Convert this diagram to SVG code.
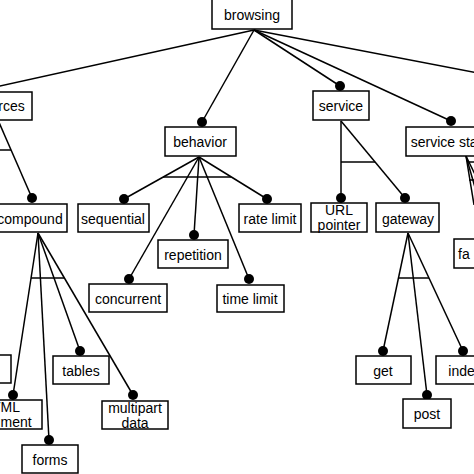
<svg xmlns="http://www.w3.org/2000/svg" width="474" height="474" viewBox="0 0 474 474">
<style>
.box{fill:#fff;stroke:#000;stroke-width:1.5}
.t{font-family:"Liberation Sans",Arial,sans-serif;font-size:14px;fill:#000;text-anchor:middle}
.c line{stroke:#000;stroke-width:1.5}
.c circle{fill:#000}
</style>
<rect width="474" height="474" fill="#fff"/>
<g class="c" id="connectors">
<line x1="254" y1="30" x2="-5" y2="87"/>
<line x1="254" y1="30" x2="202" y2="122"/>
<line x1="254" y1="30" x2="340" y2="86"/>
<line x1="254" y1="30" x2="451" y2="121"/>
<line x1="254" y1="30" x2="540" y2="85"/>
<circle cx="202" cy="122" r="5"/>
<circle cx="340" cy="86" r="5"/>
<circle cx="451" cy="121" r="5"/>
<line x1="-2" y1="120" x2="32" y2="198"/>
<line x1="-2" y1="120" x2="-20" y2="198"/>
<line x1="-10" y1="150" x2="11" y2="150"/>
<circle cx="32" cy="198" r="5"/>
<line x1="38" y1="233" x2="13" y2="395"/>
<line x1="38" y1="233" x2="49" y2="440"/>
<line x1="38" y1="233" x2="80" y2="351"/>
<line x1="38" y1="233" x2="133" y2="395"/>
<line x1="31" y1="278" x2="64" y2="278"/>
<circle cx="13" cy="395" r="5"/>
<circle cx="49" cy="440" r="5"/>
<circle cx="80" cy="351" r="5"/>
<circle cx="133" cy="395" r="5"/>
<line x1="199" y1="157" x2="124" y2="199"/>
<line x1="199" y1="157" x2="129" y2="279"/>
<line x1="199" y1="157" x2="194" y2="235"/>
<line x1="199" y1="157" x2="249" y2="279"/>
<line x1="199" y1="157" x2="267" y2="199"/>
<line x1="163" y1="177" x2="231" y2="177"/>
<circle cx="124" cy="199" r="5"/>
<circle cx="129" cy="279" r="5"/>
<circle cx="194" cy="235" r="5"/>
<circle cx="249" cy="279" r="5"/>
<circle cx="267" cy="199" r="5"/>
<line x1="341" y1="121" x2="341" y2="198"/>
<line x1="341" y1="121" x2="405" y2="198"/>
<line x1="341" y1="162" x2="375" y2="162"/>
<circle cx="341" cy="198" r="5"/>
<circle cx="405" cy="198" r="5"/>
<line x1="408" y1="233" x2="383" y2="351"/>
<line x1="408" y1="233" x2="427" y2="395"/>
<line x1="408" y1="233" x2="463" y2="351"/>
<line x1="398" y1="278" x2="429" y2="278"/>
<circle cx="383" cy="351" r="5"/>
<circle cx="427" cy="395" r="5"/>
<circle cx="463" cy="351" r="5"/>
<line x1="466" y1="156" x2="474" y2="205"/>
<line x1="466" y1="156" x2="480" y2="205"/>
<line x1="466" y1="156" x2="490" y2="205"/>
<line x1="467" y1="162" x2="476" y2="162"/>
<line x1="469" y1="180" x2="482" y2="180"/>
</g>
<g id="browsing"><rect class="box" x="212" y="-1" width="80" height="30"/><text class="t" x="252" y="20">browsing</text></g>
<g id="resources"><rect class="box" x="-45" y="92" width="77" height="28"/><text class="t" x="-6" y="111">resources</text></g>
<g id="behavior"><rect class="box" x="165" y="127" width="71" height="29"/><text class="t" x="200" y="147">behavior</text></g>
<g id="service"><rect class="box" x="313" y="91" width="56" height="29"/><text class="t" x="341" y="111">service</text></g>
<g id="service-state"><rect class="box" x="406" y="127" width="90" height="29"/><text class="t" x="450" y="147">service state</text></g>
<g id="compound"><rect class="box" x="-8" y="204" width="75" height="28"/><text class="t" x="30" y="224">compound</text></g>
<g id="sequential"><rect class="box" x="78" y="204" width="71" height="28"/><text class="t" x="113" y="224">sequential</text></g>
<g id="repetition"><rect class="box" x="158" y="240" width="70" height="28"/><text class="t" x="193" y="260">repetition</text></g>
<g id="concurrent"><rect class="box" x="89" y="284" width="78" height="28"/><text class="t" x="128" y="304">concurrent</text></g>
<g id="time-limit"><rect class="box" x="217" y="285" width="67" height="27"/><text class="t" x="250" y="304">time limit</text></g>
<g id="rate-limit"><rect class="box" x="239" y="204" width="62" height="28"/><text class="t" x="270" y="224">rate limit</text></g>
<g id="url-pointer"><rect class="box" x="311" y="203" width="56" height="29"/><text class="t" x="339" y="215">URL</text><text class="t" x="339" y="230">pointer</text></g>
<g id="gateway"><rect class="box" x="376" y="203" width="63" height="29"/><text class="t" x="408" y="224">gateway</text></g>
<g id="left-box"><rect class="box" x="-40" y="355" width="51" height="28"/></g>
<g id="html-document"><rect class="box" x="-40" y="400" width="82" height="29"/><text class="t" x="1" y="412">HTML</text><text class="t" x="1" y="427">document</text></g>
<g id="forms"><rect class="box" x="22" y="445" width="56" height="28"/><text class="t" x="50" y="465">forms</text></g>
<g id="tables"><rect class="box" x="53" y="356" width="56" height="28"/><text class="t" x="81" y="376">tables</text></g>
<g id="multipart-data"><rect class="box" x="102" y="401" width="66" height="28"/><text class="t" x="135" y="413">multipart</text><text class="t" x="135" y="428">data</text></g>
<g id="get"><rect class="box" x="356" y="356" width="55" height="28"/><text class="t" x="383" y="376">get</text></g>
<g id="post"><rect class="box" x="403" y="399" width="48" height="29"/><text class="t" x="427" y="419">post</text></g>
<g id="index"><rect class="box" x="436" y="356" width="58" height="28"/><text class="t" x="465" y="376">index</text></g>
<g id="fa"><rect class="box" x="454" y="239" width="40" height="29"/><text class="t" x="458" y="259" style="text-anchor:start">fa</text></g>
</svg>
